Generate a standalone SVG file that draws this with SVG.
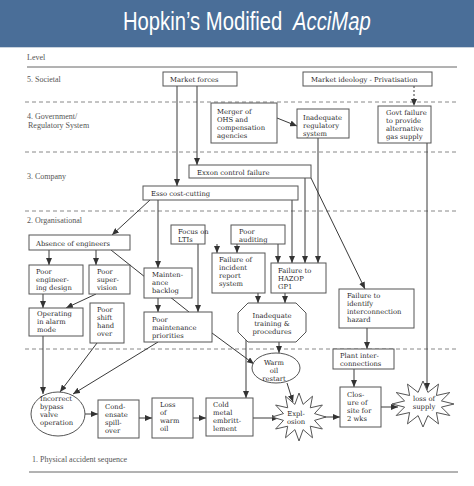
<svg xmlns="http://www.w3.org/2000/svg" width="474" height="486" viewBox="0 0 474 486">
<defs>
<marker id="ah" markerUnits="userSpaceOnUse" markerWidth="7" markerHeight="6" refX="7" refY="3" orient="auto">
<path d="M0,0 L7,3 L0,6 z" fill="#333"/>
</marker>
<style>
.t{font-family:"DejaVu Serif","Liberation Serif",serif;font-size:6.8px;fill:#2a2a2a}
.tc{font-family:"DejaVu Serif","Liberation Serif",serif;font-size:6.8px;fill:#2a2a2a;text-anchor:middle}
.lv{font-family:"Liberation Serif",serif;font-size:8px;fill:#555}
.b{fill:#fff;stroke:#555;stroke-width:1}
.c line,.c path{stroke:#3a3a3a;stroke-width:1;fill:none}
.a{marker-end:url(#ah)}
.d{stroke:#888;stroke-width:1;stroke-dasharray:4,3}
.ti{font-family:"Liberation Sans",sans-serif;font-size:25px;fill:#fff}
</style>
</defs>
<rect x="0" y="0" width="474" height="486" fill="#fff"/>
<rect x="0" y="0" width="474" height="47" fill="#4a6e98"/>
<line x1="0" y1="47.5" x2="474" y2="47.5" stroke="#c9d3de" stroke-width="1"/>
<g id="title" transform="translate(123,30) scale(0.81,1)">
<text class="ti" x="0" y="0">Hopkin’s Modified</text>
<text class="ti" x="210" y="0" font-style="italic">AcciMap</text>
</g>

<g id="levels">
<text class="lv" x="27" y="60">Level</text>
<line x1="27" y1="67" x2="457" y2="67" stroke="#666" stroke-width="1"/>
<text class="lv" x="27" y="82">5. Societal</text>
<line class="d" x1="25" y1="102" x2="458" y2="102"/>
<text class="lv" x="27" y="119">4. Government/</text>
<text class="lv" x="28" y="128">Regulatory System</text>
<line class="d" x1="25" y1="152" x2="458" y2="152"/>
<text class="lv" x="27" y="179">3. Company</text>
<line class="d" x1="25" y1="211" x2="458" y2="211"/>
<text class="lv" x="27" y="223">2. Organisational</text>
<line class="d" x1="25" y1="349" x2="458" y2="349"/>
<text class="lv" x="32" y="462">1. Physical accident sequence</text>
<line x1="29" y1="472" x2="458" y2="472" stroke="#666" stroke-width="1"/>
</g>

<g id="connectors" class="c">
<line class="a" x1="197" y1="86" x2="197" y2="165"/>
<line class="a" x1="177" y1="86" x2="177" y2="186"/>
<line class="a" x1="277" y1="118" x2="297" y2="126"/>
<line class="a" x1="414" y1="86" x2="414" y2="106" stroke-dasharray="2,2"/>
<line class="a" x1="318" y1="138" x2="318" y2="263"/>
<line class="a" x1="305" y1="178" x2="305" y2="263"/>
<line class="a" x1="292" y1="200" x2="292" y2="263"/>
<line class="a" x1="278" y1="244" x2="278" y2="263"/>
<line class="a" x1="237" y1="244" x2="237" y2="253"/>
<line class="a" x1="217" y1="244" x2="217" y2="253"/>
<line class="a" x1="311" y1="178" x2="365" y2="289"/>
<line class="a" x1="427" y1="143" x2="427" y2="390"/>
<line class="a" x1="150" y1="200" x2="112" y2="235"/>
<line class="a" x1="158" y1="200" x2="158" y2="268"/>
<line class="a" x1="49" y1="250" x2="49" y2="265"/>
<line class="a" x1="96" y1="250" x2="96" y2="265"/>
<line x1="111" y1="250" x2="189" y2="312"/>
<line class="a" x1="198" y1="244" x2="198" y2="312"/>
<line class="a" x1="158" y1="298" x2="158" y2="312"/>
<line class="a" x1="43" y1="294" x2="43" y2="308"/>
<line class="a" x1="96" y1="294" x2="66" y2="308"/>
<line class="a" x1="258" y1="293" x2="258" y2="303"/>
<line class="a" x1="285" y1="293" x2="285" y2="303"/>
<line class="a" x1="367" y1="328" x2="367" y2="349"/>
<line class="a" x1="279" y1="342" x2="279" y2="353"/>
<line class="a" x1="212" y1="333" x2="254" y2="364"/>
<line class="a" x1="246" y1="336" x2="246" y2="398"/>
<line class="a" x1="43" y1="336" x2="43" y2="394"/>
<line class="a" x1="97" y1="343" x2="60" y2="392"/>
<line class="a" x1="158" y1="342" x2="73" y2="394"/>
<line class="a" x1="85" y1="414" x2="98" y2="414"/>
<line class="a" x1="139" y1="418" x2="152" y2="418"/>
<line class="a" x1="193" y1="418" x2="206" y2="418"/>
<line class="a" x1="253" y1="418" x2="279" y2="418"/>
<line class="a" x1="287" y1="383" x2="293" y2="402"/>
<line class="a" x1="322" y1="417" x2="340" y2="417"/>
<line class="a" x1="354" y1="369" x2="354" y2="387"/>
<line class="a" x1="381" y1="407" x2="398" y2="407"/>
</g>

<g id="market-forces"><rect class="b" x="163" y="72" width="74" height="14"/><text class="t" x="170" y="82">Market forces</text></g>
<g id="market-ideology"><rect class="b" x="303" y="72" width="129" height="14"/><text class="t" x="311" y="82">Market ideology - Privatisation</text></g>
<g id="merger"><rect class="b" x="211" y="103" width="66" height="40"/><text class="t" x="217" y="114">Merger of</text><text class="t" x="217" y="122">OHS and</text><text class="t" x="217" y="130">compensation</text><text class="t" x="217" y="138">agencies</text></g>
<g id="inadequate-regulatory"><rect class="b" x="297" y="109" width="52" height="29"/><text class="t" x="303" y="120">Inadequate</text><text class="t" x="303" y="128">regulatory</text><text class="t" x="303" y="136">system</text></g>
<g id="govt-failure"><rect class="b" x="378" y="106" width="53" height="37"/><text class="t" x="386" y="115">Govt failure</text><text class="t" x="386" y="123">to provide</text><text class="t" x="386" y="131">alternative</text><text class="t" x="386" y="139">gas supply</text></g>
<g id="exxon"><rect class="b" x="189" y="165" width="122" height="13"/><text class="t" x="197" y="175">Exxon control failure</text></g>
<g id="esso"><rect class="b" x="143" y="186" width="155" height="14"/><text class="t" x="151" y="196">Esso cost-cutting</text></g>
<g id="absence-engineers"><rect class="b" x="29" y="235" width="101" height="15"/><text class="t" x="36" y="246">Absence of engineers</text></g>
<g id="focus-ltis"><rect class="b" x="171" y="225" width="34" height="19"/><text class="t" x="178" y="234">Focus on</text><text class="t" x="178" y="242">LTIs</text></g>
<g id="poor-auditing"><rect class="b" x="231" y="225" width="54" height="19"/><text class="t" x="239" y="234">Poor</text><text class="t" x="239" y="242">auditing</text></g>
<g id="failure-incident"><rect class="b" x="212" y="253" width="53" height="40"/><text class="t" x="219" y="262">Failure of</text><text class="t" x="219" y="270">incident</text><text class="t" x="219" y="278">report</text><text class="t" x="219" y="286">system</text></g>
<g id="failure-hazop"><rect class="b" x="271" y="263" width="55" height="30"/><text class="t" x="278" y="273">Failure to</text><text class="t" x="278" y="281">HAZOP</text><text class="t" x="278" y="289">GP1</text></g>
<g id="poor-eng-design"><rect class="b" x="29" y="265" width="54" height="29"/><text class="t" x="36" y="274">Poor</text><text class="t" x="36" y="282">engineer-</text><text class="t" x="36" y="290">ing design</text></g>
<g id="poor-supervision"><rect class="b" x="89" y="265" width="41" height="29"/><text class="t" x="97" y="274">Poor</text><text class="t" x="97" y="282">super-</text><text class="t" x="97" y="290">vision</text></g>
<g id="maintenance-backlog"><rect class="b" x="144" y="268" width="48" height="30"/><text class="t" x="152" y="277">Mainten-</text><text class="t" x="152" y="285">ance</text><text class="t" x="152" y="293">backlog</text></g>
<g id="operating-alarm"><rect class="b" x="29" y="308" width="54" height="28"/><text class="t" x="37" y="316">Operating</text><text class="t" x="37" y="324">in alarm</text><text class="t" x="37" y="332">mode</text></g>
<g id="poor-shift"><rect class="b" x="90" y="303" width="34" height="40"/><text class="t" x="97" y="312">Poor</text><text class="t" x="97" y="320">shift</text><text class="t" x="97" y="328">hand</text><text class="t" x="97" y="336">over</text></g>
<g id="poor-maint-priorities"><rect class="b" x="144" y="312" width="68" height="30"/><text class="t" x="152" y="322">Poor</text><text class="t" x="152" y="330">maintenance</text><text class="t" x="152" y="338">priorities</text></g>
<g id="failure-identify"><rect class="b" x="339" y="289" width="75" height="39"/><text class="t" x="347" y="298">Failure to</text><text class="t" x="347" y="306">identify</text><text class="t" x="347" y="314">interconnection</text><text class="t" x="347" y="322">hazard</text></g>
<g id="inadequate-training"><polygon class="b" points="248,303 296,303 306,313 306,332 296,342 248,342 238,332 238,313"/><text class="tc" x="272" y="318">Inadequate</text><text class="tc" x="272" y="326">training &amp;</text><text class="tc" x="272" y="334">procedures</text></g>
<g id="plant-interconnections"><rect class="b" x="333" y="349" width="61" height="20"/><text class="t" x="340" y="358">Plant inter-</text><text class="t" x="340" y="366">connections</text></g>
<g id="warm-oil-restart"><ellipse class="b" cx="276" cy="368" rx="24" ry="15"/><text class="tc" x="274" y="365">Warm</text><text class="tc" x="274" y="373">oil</text><text class="tc" x="274" y="381">restart</text></g>
<g id="incorrect-bypass"><ellipse class="b" cx="58" cy="414" rx="27" ry="22"/><text class="t" x="40" y="401">Incorrect</text><text class="t" x="40" y="409">bypass</text><text class="t" x="40" y="417">valve</text><text class="t" x="40" y="425">operation</text></g>
<g id="condensate"><rect class="b" x="98" y="400" width="41" height="38"/><text class="t" x="105" y="409">Cond-</text><text class="t" x="105" y="417">ensate</text><text class="t" x="105" y="425">spill-</text><text class="t" x="105" y="433">over</text></g>
<g id="loss-warm-oil"><rect class="b" x="152" y="398" width="41" height="40"/><text class="t" x="160" y="407">Loss</text><text class="t" x="160" y="415">of</text><text class="t" x="160" y="423">warm</text><text class="t" x="160" y="431">oil</text></g>
<g id="cold-metal"><rect class="b" x="206" y="398" width="47" height="38"/><text class="t" x="213" y="407">Cold</text><text class="t" x="213" y="415">metal</text><text class="t" x="213" y="423">embritt-</text><text class="t" x="213" y="431">lement</text></g>
<g id="explosion"><polygon class="b" points="326,417 314.5,420.4 322.4,429 310.3,426.2 312.5,437.8 303.1,429.6 299,441 294.9,429.6 285.5,437.8 287.7,426.2 275.6,429 283.5,420.4 272,417 283.5,413.6 275.6,405 287.7,407.8 285.5,396.2 294.9,404.4 299,393 303.1,404.4 312.5,396.2 310.3,407.8 322.4,405 314.5,413.6"/><text class="tc" x="296" y="416">Expl-</text><text class="tc" x="296" y="424">osion</text></g>
<g id="closure"><rect class="b" x="340" y="387" width="41" height="40"/><text class="t" x="347" y="397">Clos-</text><text class="t" x="347" y="405">ure of</text><text class="t" x="347" y="413">site for</text><text class="t" x="347" y="421">2 wks</text></g>
<g id="loss-supply"><polygon class="b" points="454,404 441.4,407.1 449.8,415.5 436.4,412.5 438.5,423.9 427.9,415.6 423,427 418.1,415.6 407.5,423.9 409.6,412.5 396.2,415.5 404.6,407.1 392,404 404.6,400.9 396.2,392.5 409.6,395.5 407.5,384.1 418.1,392.4 423,381 427.9,392.4 438.5,384.1 436.4,395.5 449.8,392.5 441.4,400.9"/><text class="tc" x="424" y="401">loss of</text><text class="tc" x="424" y="409">supply</text></g>
</svg>
